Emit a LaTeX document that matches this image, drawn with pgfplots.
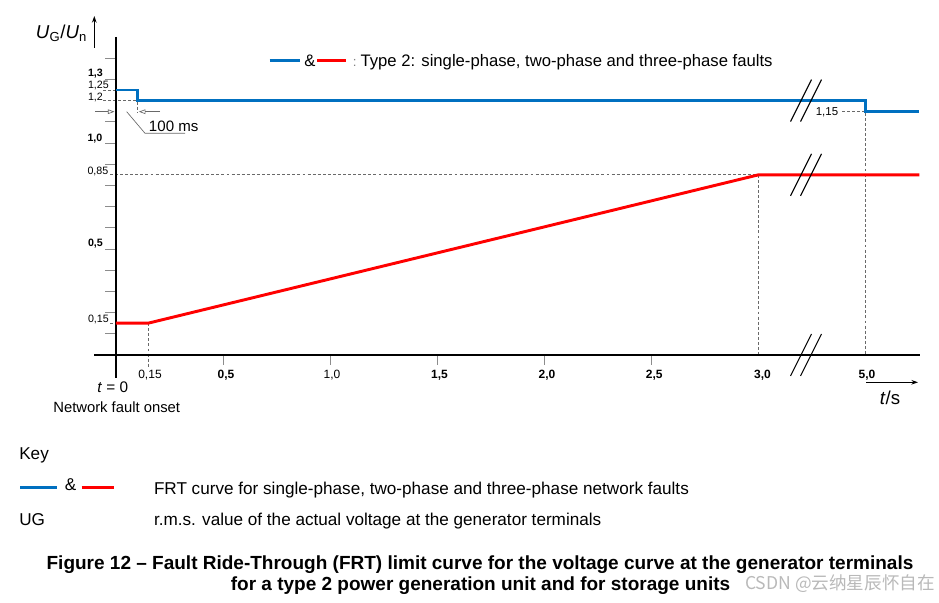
\documentclass[border=0pt]{standalone}
\usepackage{fontspec}
\setmainfont{Liberation Sans}
\newfontfamily\cjk{Noto Sans CJK SC}
\usepackage{pgfplots}
\pgfplotsset{compat=1.18}
\usetikzlibrary{arrows.meta}

\definecolor{frtblue}{RGB}{0,112,192}
\definecolor{frtred}{RGB}{255,0,0}
\definecolor{guide}{RGB}{105,105,105}
\definecolor{tickgray}{RGB}{140,140,140}

\newcommand\fs[1]{\fontsize{#1}{1.15\dimexpr #1pt\relax}\selectfont}

\begin{document}
\begin{tikzpicture}
\useasboundingbox (0,0) rectangle (704.25pt,452.25pt);

% frame, ticks and guide lines (drawing units: 1 = 0.75pt, y downwards)
\begin{scope}[x=0.75pt,y=-0.75pt,yshift=452.25pt]
  % ticks on the voltage axis
  \foreach \v in {0.1,0.2,0.3,0.4,0.5,0.6,0.7,0.8,0.9,1.0,1.1,1.3,1.4}
    \draw[tickgray,line width=0.6pt] (105,{355-212*\v}) -- (116,{355-212*\v});
  % ticks on the time axis
  \foreach \u in {0.5,1.0,1.5,2.0,2.5}
    \draw[tickgray,line width=0.6pt] ({116+214.2*\u},355) -- ({116+214.2*\u},365);
  % dashed guides
  \begin{scope}[guide,line width=0.5pt,dash pattern=on 2.2pt off 1.6pt]
    \draw (103,90) -- (116,90);
    \draw (103,100.6) -- (137.4,100.6) -- (137.4,112);
    \draw (110,174.8) -- (758.6,174.8) -- (758.6,355);
    \draw (110,323.2) -- (116,323.2);
    \draw (148.1,323.2) -- (148.1,368);
    \draw (842,111.2) -- (865.7,111.2) -- (865.7,355);
  \end{scope}
  % 100 ms marker
  \draw[guide,line width=0.5pt,-{Triangle[open,length=5pt,width=3.5pt]}] (95,111.7) -- (114.5,111.7);
  \draw[guide,line width=0.5pt,-{Triangle[open,length=5pt,width=3.5pt]}] (160,111.7) -- (138.8,111.7);
  \draw[guide,line width=0.5pt] (126.7,111.7) -- (145,133.3) -- (185,133.3);
  % axis lines
  \draw[black,line width=2pt] (116,37) -- (116,378);
  \draw[black,line width=2pt] (94,355) -- (920,355);
  % axis arrows
  \draw[black,line width=0.8pt,-{Stealth[length=5pt,width=3.5pt]}] (94.3,48) -- (94.3,16);
  \draw[black,line width=0.7pt,-{Stealth[length=5pt,width=3.5pt]}] (866,382.3) -- (918,382.3);
\end{scope}

\begin{axis}[
  at={(67.72pt,166.92pt)}, anchor=south west,
  x=160.65pt, y=159pt,
  xmin=-0.12, xmax=6.1, ymin=-0.12, ymax=1.55,
  hide axis, clip=false,
  % the time axis is broken between 3 s and 5 s: that part is drawn at a quarter of the scale
  x coord trafo/.code={\pgfmathparse{(#1)>3 ? 3+((#1)-3)*0.25 : (#1)}},
  x coord inv trafo/.code={\pgfmathparse{(#1)>3 ? 3+((#1)-3)*4 : (#1)}},
]
% upper limit (overvoltage)
\addplot[frtblue,line width=2.2pt] coordinates
  {(0,1.25) (0.1,1.25) (0.1,1.2) (5,1.2) (5,1.15) (6,1.15)};
% lower limit (undervoltage)
\addplot[frtred,line width=2.2pt] coordinates
  {(0,0.15) (0.15,0.15) (3,0.85) (6,0.85)};
\end{axis}

\begin{scope}[x=0.75pt,y=-0.75pt,yshift=452.25pt]
  % axis break marks
  \foreach \c in {355,100.6,174.8}{
    \draw[black,line width=0.8pt] (790.5,\c+21) -- (811.5,\c-21);
    \draw[black,line width=0.8pt] (800.5,\c+21) -- (821.5,\c-21);
  }
  \begin{scope}[every node/.style={inner sep=0pt,outer sep=0pt}]
  % voltage tick labels
  \node[anchor=base west,font=\fs{8}\bfseries] at (88,76.6) {1,3};
  \node[anchor=base west,font=\fs{8}] at (88,88.6) {1,25};
  \node[anchor=base west,font=\fs{8}] at (88,100.2) {1,2};
  \node[anchor=base west,font=\fs{8}\bfseries] at (87.5,141.6) {1,0};
  \node[anchor=base west,font=\fs{8}] at (87.5,174.6) {0,85};
  \node[anchor=base west,font=\fs{8}\bfseries] at (88,246.6) {0,5};
  \node[anchor=base west,font=\fs{8}] at (88,322.2) {0,15};
  \node[anchor=base,font=\fs{8.6}] at (827,115.8) {1,15};
  % time tick labels
  \node[anchor=base,font=\fs{9}] at (150,378.6) {0,15};
  \node[anchor=base,font=\fs{9}\bfseries] at (226,378.6) {0,5};
  \node[anchor=base,font=\fs{9}] at (332,378.6) {1,0};
  \node[anchor=base,font=\fs{9}\bfseries] at (439.5,378.6) {1,5};
  \node[anchor=base,font=\fs{9}\bfseries] at (547,378.6) {2,0};
  \node[anchor=base,font=\fs{9}\bfseries] at (654.3,378.6) {2,5};
  \node[anchor=base,font=\fs{9}\bfseries] at (762.5,378.6) {3,0};
  \node[anchor=base,font=\fs{9}\bfseries] at (867,378.6) {5,0};
  % axis titles
  \node[anchor=base,font=\fs{14}] at (61.5,38.3) {\textit{U}\textsubscript{G}/\textit{U}\textsubscript{n}};
  \node[anchor=base,font=\fs{14}] at (890,405) {\textit{t}/s};
  \node[anchor=base,font=\fs{11.5}] at (112.8,392.6) {\textit{t} = 0};
  \node[anchor=base,font=\fs{11.1}] at (116.7,412.6) {Network fault onset};
  \node[anchor=base,font=\fs{11.3}] at (173.7,132) {100 ms};
  % legend
  \draw[frtblue,line width=2.2pt] (269.5,60.2) -- (299.6,60.2);
  \node[anchor=base,font=\fs{12.5}] at (310,66.5) {\&};
  \draw[frtred,line width=2.2pt] (317.4,60.2) -- (345.7,60.2);
  \node[anchor=base,font=\fs{10},text=gray] at (354.6,66.5) {:};
  \node[anchor=base west,font=\fs{12.5}] at (360.6,66.5) {Type 2: single-phase, two-phase and three-phase faults};
  % key
  \node[anchor=base west,font=\fs{12.85}] at (19.3,459.3) {Key};
  \draw[frtblue,line width=2.2pt] (20,487.3) -- (56.7,487.3);
  \node[anchor=base,font=\fs{12.85}] at (70.5,491) {\&};
  \draw[frtred,line width=2.2pt] (81.7,487.3) -- (114.3,487.3);
  \node[anchor=base west,font=\fs{12.85}] at (154,495) {FRT curve for single-phase, two-phase and three-phase network faults};
  \node[anchor=base west,font=\fs{12.85}] at (19.3,525.7) {UG};
  \node[anchor=base west,font=\fs{12.85}] at (154,525.7) {r.m.s. value of the actual voltage at the generator terminals};
  % caption
  \node[anchor=base,font=\fs{14.25}\bfseries] at (480,570) {Figure 12 – Fault Ride-Through (FRT) limit curve for the voltage curve at the generator terminals};
  \node[anchor=base,font=\fs{14.25}\bfseries] at (480.5,591) {for a type 2 power generation unit and for storage units};
  \node[anchor=base,font=\fs{13.2},text=gray!55] at (840,590) {\cjk CSDN @云纳星辰怀自在};
  \end{scope}
\end{scope}
\end{tikzpicture}
\end{document}
